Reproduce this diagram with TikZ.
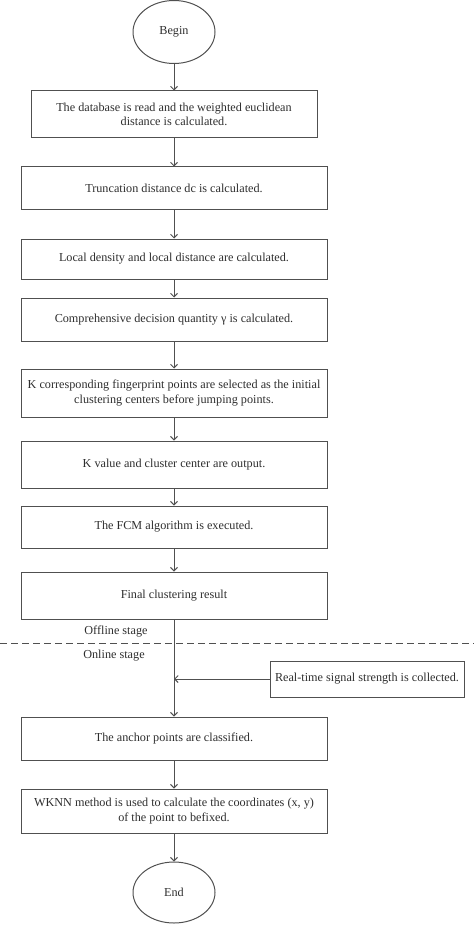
\documentclass[tikz,border=0pt]{standalone}
\usepackage{fontspec}
\setmainfont{Liberation Serif}
\usetikzlibrary{arrows.meta,shapes.geometric}
\definecolor{ln}{HTML}{505050}
\definecolor{tx}{HTML}{2E2E2E}
\begin{document}
\begin{tikzpicture}[x=1pt,y=-1pt,
  font=\fontsize{12.2}{14.5}\selectfont,
  every node/.append style={text=tx},
  stepbox/.style={draw=ln,line width=1pt,rectangle,align=center,inner sep=2pt},
  term/.style={draw=ln,line width=1pt,ellipse,minimum width=82pt,minimum height=63pt,inner sep=0pt},
  flow/.style={draw=ln,line width=1pt,-{Straight Barb[length=3.5pt,width=7pt]}},
  lbl/.style={inner sep=0pt}]
\useasboundingbox (0,0) rectangle (474,925);
\node[term] (begin) at (174,32) {Begin};
\node[stepbox,minimum width=286pt,minimum height=47pt] (b1) at (174,114.5) {The database is read and the weighted euclidean\\distance is calculated.};
\node[stepbox,minimum width=306pt,minimum height=43pt] (b2) at (174,188.5) {Truncation distance dc is calculated.};
\node[stepbox,minimum width=306pt,minimum height=40pt] (b3) at (174,259) {Local density and local distance are calculated.};
\node[stepbox,minimum width=306pt,minimum height=43pt] (b4) at (174,319.5) {Comprehensive decision quantity γ is calculated.};
\node[stepbox,minimum width=306pt,minimum height=48pt] (b5) at (174,393) {K corresponding fingerprint points are selected as the initial\\clustering centers before jumping points.};
\node[stepbox,minimum width=306pt,minimum height=47pt] (b6) at (174,464.5) {K value and cluster center are output.};
\node[stepbox,minimum width=306pt,minimum height=42pt] (b7) at (174,527) {The FCM algorithm is executed.};
\node[stepbox,minimum width=306pt,minimum height=47pt] (b8) at (174,595.5) {Final clustering result};
\node[lbl] (off) at (116,632) {Offline stage};
\node[lbl] (on) at (114,656) {Online stage};
\coordinate (dl) at (0,643);
\coordinate (dr) at (474,643);
\draw[ln,line width=1pt,dash pattern=on 7pt off 4pt] (dl) -- (dr);
\node[stepbox,minimum width=194pt,minimum height=36pt] (rt) at (367,679) {Real-time signal strength is collected.};
\node[stepbox,minimum width=306pt,minimum height=43pt] (b9) at (174,738.5) {The anchor points are classified.};
\node[stepbox,minimum width=306pt,minimum height=44pt] (b10) at (174,811) {WKNN method is used to calculate the coordinates (x, y)\\of the point to befixed.};
\node[term,minimum height=61pt] (end) at (174,892.5) {End};
\coordinate (j) at (174,679);
\draw[flow] (begin) -- (b1);
\draw[flow] (b1) -- (b2);
\draw[flow] (b2) -- (b3);
\draw[flow] (b3) -- (b4);
\draw[flow] (b4) -- (b5);
\draw[flow] (b5) -- (b6);
\draw[flow] (b6) -- (b7);
\draw[flow] (b7) -- (b8);
\draw[flow] (b8) -- (b9);
\draw[flow] (rt.west) -- (j);
\draw[flow] (b9) -- (b10);
\draw[flow] (b10) -- (end);
\end{tikzpicture}
\end{document}
